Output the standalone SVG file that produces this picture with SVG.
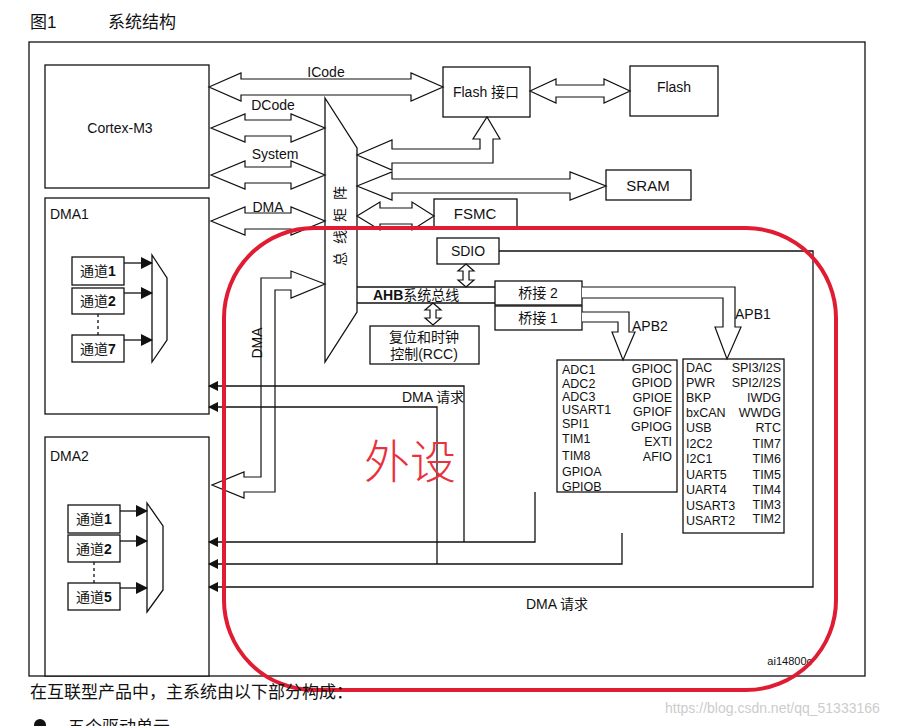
<svg xmlns="http://www.w3.org/2000/svg" width="913" height="726" viewBox="0 0 913 726">
<style>
text{font-family:"Liberation Sans","Noto Sans CJK SC",sans-serif;fill:#111}
.b{fill:#fff;stroke:#111;stroke-width:1.3}
.l{fill:none;stroke:#111;stroke-width:1.3}
.h{fill:#fff;stroke:#111;stroke-width:1.2}
.t14{font-size:14px}
.t13{font-size:12.5px}
.m{text-anchor:middle}
.r{text-anchor:end}
</style>
<defs>
<marker id="af" markerWidth="10" markerHeight="10" refX="9" refY="5" orient="auto" markerUnits="userSpaceOnUse"><path d="M0,0 L10,5 L0,10 Z" fill="#111"/></marker>
<marker id="ar" markerWidth="12" markerHeight="12" refX="11" refY="6" orient="auto" markerUnits="userSpaceOnUse"><path d="M0,0 L12,6 L0,12 Z" fill="#111"/></marker>
</defs>
<rect width="913" height="726" fill="#fff"/>
<text x="30" y="28" style="font-size:17px">图1</text>
<text x="108" y="28" style="font-size:17px">系统结构</text>
<rect x="29" y="42" width="836" height="634" class="l"/>

<g id="cortex"><rect x="45" y="65" width="164" height="123" class="b"/><text x="120" y="133" class="t14 m">Cortex-M3</text></g>
<g id="dma1"><rect x="45" y="198" width="164" height="216" class="b"/><text x="50" y="219" class="t14">DMA1</text>
<rect x="72" y="257" width="52" height="28" class="b"/><text x="98" y="276" class="t14 m">通道<tspan font-weight="bold">1</tspan></text>
<rect x="72" y="288" width="52" height="26" class="b"/><text x="98" y="306" class="t14 m">通道<tspan font-weight="bold">2</tspan></text>
<rect x="72" y="335" width="52" height="27" class="b"/><text x="98" y="354" class="t14 m">通道<tspan font-weight="bold">7</tspan></text>
<line x1="98" y1="314" x2="98" y2="335" class="l" stroke-dasharray="3,3"/>
<polygon points="152,255 167,278 167,340 152,362" class="b"/>
<line x1="124" y1="263" x2="152" y2="263" class="l" marker-end="url(#ar)"/>
<line x1="124" y1="293" x2="152" y2="293" class="l" marker-end="url(#ar)"/>
<line x1="124" y1="340" x2="152" y2="340" class="l" marker-end="url(#ar)"/></g>
<g id="dma2"><rect x="45" y="437" width="164" height="239" class="b"/><text x="50" y="461" class="t14">DMA2</text>
<rect x="68" y="505" width="52" height="28" class="b"/><text x="94" y="524" class="t14 m">通道<tspan font-weight="bold">1</tspan></text>
<rect x="68" y="535" width="52" height="27" class="b"/><text x="94" y="554" class="t14 m">通道<tspan font-weight="bold">2</tspan></text>
<rect x="68" y="583" width="52" height="27" class="b"/><text x="94" y="602" class="t14 m">通道<tspan font-weight="bold">5</tspan></text>
<line x1="94" y1="562" x2="94" y2="583" class="l" stroke-dasharray="3,3"/>
<polygon points="147,503 163,526 163,590 147,612" class="b"/>
<line x1="120" y1="511" x2="147" y2="511" class="l" marker-end="url(#ar)"/>
<line x1="120" y1="541" x2="147" y2="541" class="l" marker-end="url(#ar)"/>
<line x1="120" y1="588" x2="147" y2="588" class="l" marker-end="url(#ar)"/></g>

<g id="matrix"><polygon points="325,98 357,148 357,312 325,362" class="b"/>
<text transform="translate(345,222) rotate(-90)" class="t14 m" letter-spacing="8"><tspan>总</tspan><tspan>线</tspan><tspan>矩</tspan><tspan dx="0">阵</tspan></text></g>
<g id="flashif"><rect x="443" y="67" width="87" height="50" class="b"/><text x="486" y="97" class="t14 m">Flash 接口</text></g>
<g id="flash"><rect x="630" y="66" width="88" height="50" class="b"/><text x="674" y="92" class="t14 m">Flash</text></g>
<g id="sram"><rect x="606" y="170" width="85" height="30" class="b"/><text x="648" y="191" class="m" style="font-size:15px">SRAM</text></g>
<g id="fsmc"><rect x="434" y="199" width="83" height="28" class="b"/><text x="475" y="219" class="m" style="font-size:15px">FSMC</text></g>
<g id="sdio"><rect x="437" y="238" width="62" height="26" class="b"/><text x="468" y="256" class="t14 m">SDIO</text></g>
<g id="bridge2"><rect x="495" y="281" width="87" height="24" class="b"/><text x="538" y="298" class="t14 m">桥接 2</text></g>
<g id="bridge1"><rect x="495" y="306" width="87" height="24" class="b"/><text x="538" y="323" class="t14 m">桥接 1</text></g>
<g id="rcc"><rect x="370" y="326" width="109" height="38" class="b"/><text x="424" y="342" class="t14 m">复位和时钟</text><text x="424" y="359" class="t14 m">控制(RCC)</text></g>
<g id="apb2"><rect x="557" y="360" width="120" height="132" class="b"/>
<g class="t13"><text x="562" y="374">ADC1</text><text x="562" y="388">ADC2</text><text x="562" y="401">ADC3</text><text x="562" y="414">USART1</text><text x="562" y="428">SPI1</text><text x="562" y="443">TIM1</text><text x="562" y="460">TIM8</text><text x="562" y="476">GPIOA</text><text x="562" y="491">GPIOB</text></g>
<g class="t13 r"><text x="672" y="373">GPIOC</text><text x="672" y="387">GPIOD</text><text x="672" y="402">GPIOE</text><text x="672" y="416">GPIOF</text><text x="672" y="431">GPIOG</text><text x="672" y="446">EXTI</text><text x="672" y="461">AFIO</text></g></g>
<g id="apb1"><rect x="683" y="359" width="101" height="174" class="b"/>
<g class="t13"><text x="686" y="372">DAC</text><text x="686" y="387">PWR</text><text x="686" y="402">BKP</text><text x="686" y="417">bxCAN</text><text x="686" y="432">USB</text><text x="686" y="448">I2C2</text><text x="686" y="463">I2C1</text><text x="686" y="479">UART5</text><text x="686" y="494">UART4</text><text x="686" y="510">USART3</text><text x="686" y="525">USART2</text></g>
<g class="t13 r"><text x="781" y="372">SPI3/I2S</text><text x="781" y="387">SPI2/I2S</text><text x="781" y="402">IWDG</text><text x="781" y="417">WWDG</text><text x="781" y="432">RTC</text><text x="781" y="448">TIM7</text><text x="781" y="463">TIM6</text><text x="781" y="479">TIM5</text><text x="781" y="494">TIM4</text><text x="781" y="509">TIM3</text><text x="781" y="523">TIM2</text></g></g>

<g id="connectors">
<path class="h" d="M209,87 L241,73 L241,79 L411,79 L411,73 L443,87 L411,101 L411,95 L241,95 L241,101 Z"/>
<text x="326" y="77" class="t14 m">ICode</text>
<path class="h" d="M211,128 L245,114 L245,120 L291,120 L291,114 L325,128 L291,142 L291,136 L245,136 L245,142 Z"/>
<text x="273" y="110" class="t14 m">DCode</text>
<path class="h" d="M211,175 L245,161 L245,167 L291,167 L291,161 L325,175 L291,189 L291,183 L245,183 L245,189 Z"/>
<text x="275" y="159" class="t14 m">System</text>
<path class="h" d="M211,221 L245,207 L245,213 L291,213 L291,207 L325,221 L291,235 L291,229 L245,229 L245,235 Z"/>
<text x="268" y="212" class="t14 m">DMA</text>
<path class="h" d="M530,91 L556,79 L556,85 L604,85 L604,79 L630,91 L604,103 L604,97 L556,97 L556,103 Z"/>
<path class="h" d="M357,155 L392,140 L392,149 L480,149 L480,139 L473,139 L487,117 L500,139 L493,139 L493,163 L392,163 L392,170 Z"/>
<path class="h" d="M357,186 L392,172 L392,179 L570,179 L570,172 L606,186 L570,200 L570,193 L392,193 L392,200 Z"/>
<path class="h" d="M357,216 L380,202 L380,208 L412,208 L412,202 L434,216 L412,230 L412,224 L380,224 L380,230 Z"/>
<path class="h" d="M466,264 L474,271 L469,271 L469,280 L474,280 L466,287 L458,280 L463,280 L463,271 L458,271 Z"/>
<path class="h" d="M433,303 L441,310 L436,310 L436,318 L441,318 L433,325 L425,318 L430,318 L430,310 L425,310 Z"/>
<line x1="357" y1="287" x2="495" y2="287" class="l"/>
<line x1="357" y1="303" x2="495" y2="303" class="l"/>
<text x="373" y="300" class="t14" font-weight="bold">AHB<tspan font-weight="normal">系统总线</tspan></text>
<path class="h" d="M582,287 L735,287 L735,327 L741,327 L727,359 L715,327 L723,327 L723,298 L582,298"/>
<text x="735" y="319" class="t14">APB1</text>
<path class="h" d="M582,312 L629,312 L629,332 L635,332 L623,360 L612,332 L618,332 L618,322 L582,322"/>
<text x="632" y="331" class="t14">APB2</text>
<path class="h" d="M325,284 L291,271 L291,278 L261,278 L261,477 L244,477 L244,472 L212,485 L244,498 L244,492 L275,492 L275,290 L291,290 L291,298 Z"/>
<text transform="translate(262,343) rotate(-90)" class="t14 m">DMA</text>
<polyline class="l" points="499,251 813,251 813,587 209,587" marker-end="url(#af)"/>
<polyline class="l" points="464,542 464,386 209,386" marker-end="url(#af)"/>
<polyline class="l" points="437,564 437,407 209,407" marker-end="url(#af)"/>
<polyline class="l" points="535,492 535,542 209,542" marker-end="url(#af)"/>
<polyline class="l" points="622,533 622,564 209,564" marker-end="url(#af)"/>
<text x="433" y="402" class="t14 m">DMA 请求</text>
<text x="557" y="609" class="t14 m">DMA 请求</text>
</g>
<text x="812" y="665" class="r" style="font-size:11px">ai14800c</text>
<rect x="224" y="228" width="612" height="462" rx="90" ry="90" fill="none" stroke="#e01c33" stroke-width="4"/>
<text x="410" y="478" class="m" style="font-size:46px;fill:#e8323c;font-family:'Noto Sans CJK SC',sans-serif;font-weight:300">外设</text>
<text x="30" y="698" style="font-size:17px">在互联型产品中，主系统由以下部分构成：</text>
<circle cx="40" cy="725" r="6" fill="#111"/>
<text x="68" y="733" style="font-size:17px">五个驱动单元</text>
<text x="665" y="713" style="font-size:14px;fill:#ccc">https://blog.csdn.net/qq_51333166</text>
</svg>
